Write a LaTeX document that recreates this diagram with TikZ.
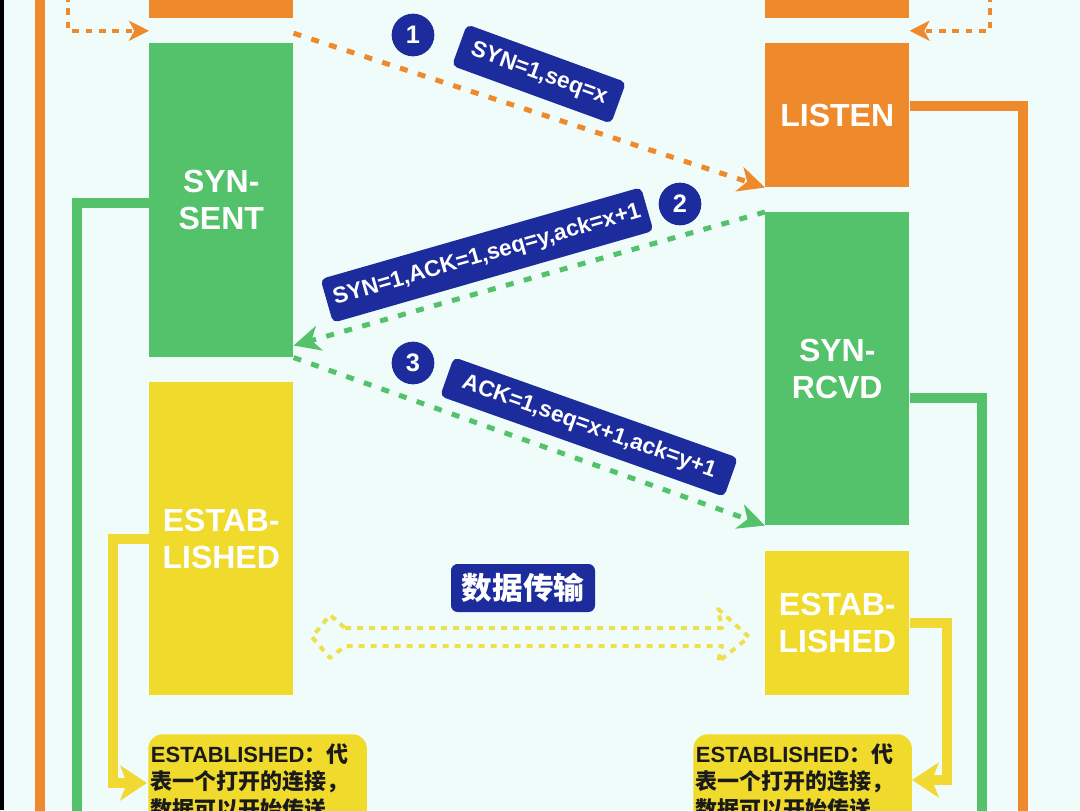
\documentclass[tikz,border=0pt]{standalone}
\usepackage{fontspec}
\setmainfont{Liberation Sans}
\newfontfamily\cjk{Noto Sans CJK SC}
\usetikzlibrary{arrows.meta,calc}
\definecolor{bgc}{HTML}{F0FCFA}
\definecolor{ora}{HTML}{EE8A2B}
\definecolor{grn}{HTML}{53C26B}
\definecolor{yel}{HTML}{F0DA2C}
\definecolor{yelline}{HTML}{F1D833}
\definecolor{dashyel}{HTML}{ECE04C}
\definecolor{navy}{HTML}{1C2C9C}
\definecolor{notetext}{HTML}{1A1A1A}
\begin{document}
\begin{tikzpicture}[x=0.75pt,y=-0.75pt,
  statebox/.style={anchor=north west, minimum width=108pt, inner sep=0pt, text=white, align=center, font=\bfseries\fontsize{24}{28}\selectfont},
  obox/.style={statebox, fill=ora},
  gbox/.style={statebox, fill=grn},
  ybox/.style={statebox, fill=yel},
  msg/.style={fill=navy, text=white, rounded corners=4pt, inner xsep=4pt, inner ysep=0pt, minimum height=32pt, font=\bfseries\fontsize{17}{17}\selectfont},
  num/.style={circle, fill=navy, text=white, minimum size=32pt, inner sep=0pt, font=\bfseries\fontsize{19}{19}\selectfont},
  note/.style={anchor=north west, fill=yel, rounded corners=11pt, text width=160pt, inner xsep=2pt, inner ysep=7pt, align=left, text=notetext, font=\bfseries\fontsize{16.5}{20.5}\selectfont},
  datalbl/.style={fill=navy, rounded corners=5pt, text=white, minimum width=108pt, minimum height=36pt, inner sep=0pt, font=\cjk\bfseries\fontsize{23}{23}\selectfont},
  solidconn/.style={line width=7.5pt, line join=miter},
  dashconn/.style={line width=3.75pt, dash pattern=on 6pt off 8pt},
  smalldash/.style={line width=3pt, dash pattern=on 5pt off 5pt},
  bigtip/.style={-{Stealth[length=20pt,width=19pt,inset=6pt]}},
  smalltip/.style={-{Stealth[length=15pt,width=15pt,inset=4pt]}},
  fattip/.style={-{Stealth[length=20pt,width=26pt,inset=5pt]}}
]
\useasboundingbox (0,0) rectangle (1080,810);
\begin{scope}
\clip (0,0) rectangle (1080,810);
\fill[bgc] (0,0) rectangle (1080,810);
\fill[black] (0,0) rectangle (4,810);

% state boxes
\node[obox, minimum height=28.5pt] (topL) at (149,-20) {};
\node[gbox, minimum height=235.5pt] (synsent) at (149,43) {SYN-\\SENT};
\node[ybox, minimum height=234.75pt] (estL) at (149,382) {ESTAB-\\LISHED};
\node[obox, minimum height=28.5pt] (topR) at (765,-20) {};
\node[obox, minimum height=108pt] (listen) at (765,43) {LISTEN};
\node[gbox, minimum height=234.75pt] (synrcvd) at (765,212) {SYN-\\RCVD};
\node[ybox, minimum height=108pt] (estR) at (765,551) {ESTAB-\\LISHED};

% notes
\node[note] (noteL) at (148,734) {ESTABLISHED{\cjk ：代}\\{\cjk 表一个打开的连接，}\\{\cjk 数据可以开始传送}};
\node[note] (noteR) at (693,734) {ESTABLISHED{\cjk ：代}\\{\cjk 表一个打开的连接，}\\{\cjk 数据可以开始传送}};

% coordinates for free ends
\coordinate (oLt) at (40,-10);
\coordinate (oLb) at (40,820);
\coordinate (gLb) at (77,820);
\coordinate (oRb) at (1023,820);
\coordinate (gRb) at (982,820);
\coordinate (aL) at (147,783);
\coordinate (aR) at (912,780);
\coordinate (sL) at (68,-5);
\coordinate (sR) at (990,-5);
\coordinate (mL) at ($(topL.south west)!0.5!(synsent.north west)$);
\coordinate (mR) at ($(topR.south east)!0.5!(listen.north east)$);
\coordinate (a1s) at ($(topL.south east)!0.6!(synsent.north east)$);

% solid connectors
\draw[solidconn, ora] (oLt) -- (oLb);
\draw[solidconn, grn] ([yshift=-2pt]synsent.west) -| (gLb);
\draw[solidconn, ora] ([yshift=7pt]listen.east) -| (oRb);
\draw[solidconn, grn] ([yshift=-22pt]synrcvd.east) -| (gRb);
\draw[solidconn, yelline, fattip] (estL.west) -- ++(-36,0) |- (aL);
\draw[solidconn, yelline, fattip] (estR.east) -- ++(37,0) |- (aR);

% small dashed arrows at the top
\draw[smalldash, ora, smalltip] (sL) |- (mL);
\draw[smalldash, ora, smalltip] (sR) |- (mR);

% handshake arrows
\draw[dashconn, ora, bigtip] (a1s) -- (listen.south west);
\draw[dashconn, grn, bigtip] (synrcvd.north west) -- ([yshift=9pt]synsent.south east);
\draw[dashconn, grn, bigtip] (synsent.south east) -- (synrcvd.south west);

% labels
\node[msg, minimum width=127pt, minimum height=33pt, rotate=-20] (l1) at (539,74) {SYN=1,seq=x};
\node[msg, minimum width=250pt, minimum height=34pt, rotate=16] (l2) at (487,255) {SYN=1,ACK=1,seq=y,ack=x+1};
\node[msg, minimum width=226pt, minimum height=31pt, rotate=-19.5] (l3) at (589,427) {ACK=1,seq=x+1,ack=y+1};

\node[num] (c1) at (413,35) {1};
\node[num] (c2) at (680,204) {2};
\node[num] (c3) at (413,363) {3};

% data transfer
\node[datalbl] (data) at (523,588) {数据传输};
\draw[dashyel, line width=3pt, dash pattern=on 4.5pt off 4.5pt, line join=round]
  (345,628) -- (722,628) -- (718,609) -- (749,637) -- (718,662) -- (722,646)
  -- (345,646) -- (330,658) -- (312,637) -- (330,615) -- cycle;
\end{scope}
\end{tikzpicture}
\end{document}
